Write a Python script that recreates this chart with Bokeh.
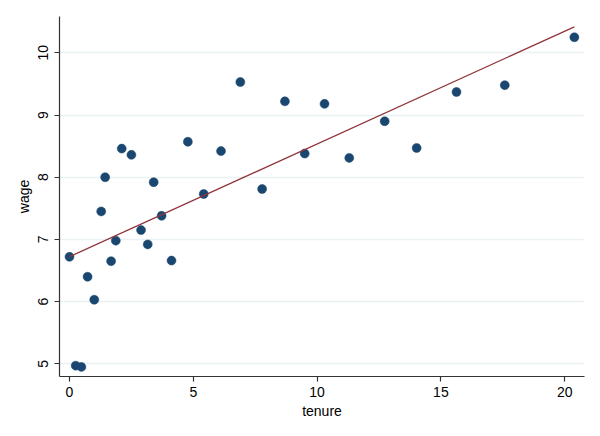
import numpy as np
from bokeh.plotting import figure
from bokeh.models import FixedTicker, ColumnDataSource, Range1d
from bokeh.embed import file_html
from bokeh.resources import INLINE

# data
tenure = [0.0, 0.25, 0.48, 0.73, 1.00, 1.28, 1.44, 1.68, 1.87, 2.11,
          2.50, 2.89, 3.16, 3.40, 3.72, 4.12, 4.78, 5.42, 6.12, 6.90,
          7.78, 8.70, 9.50, 10.30, 11.30, 12.73, 14.02, 15.63, 17.58, 20.39]
wage = [6.72, 4.97, 4.95, 6.40, 6.03, 7.45, 8.00, 6.65, 6.98, 8.46,
        8.36, 7.15, 6.92, 7.92, 7.38, 6.66, 8.57, 7.73, 8.42, 9.53,
        7.81, 9.22, 8.38, 9.18, 8.31, 8.90, 8.47, 9.37, 9.48, 10.25]
x_ticks = [0, 5, 10, 15, 20]
y_ticks = [5, 6, 7, 8, 9, 10]

# linear fit of wage on tenure
slope, intercept = np.polyfit(tenure, wage, 1)
fit_x = [min(tenure), max(tenure)]
fit_y = [intercept + slope * v for v in fit_x]

FONT = "Liberation Sans"
AXIS_COL = "#333333"

p = figure(width=600, height=436, output_backend="svg", toolbar_location=None,
           x_range=Range1d(-0.404, 20.8), y_range=Range1d(4.796, 10.584),
           min_border_left=59, min_border_right=16, min_border_top=16,
           min_border_bottom=60)
p.outline_line_color = None
p.background_fill_color = "white"
p.border_fill_color = "white"

p.xgrid.visible = False
p.ygrid.ticker = FixedTicker(ticks=y_ticks)
p.ygrid.grid_line_color = "#eaf2f3"
p.ygrid.grid_line_width = 1.5

for ax in (p.xaxis[0], p.yaxis[0]):
    ax.axis_line_color = AXIS_COL
    ax.axis_line_width = 1.2
    ax.major_tick_line_color = AXIS_COL
    ax.major_tick_line_width = 1.2
    ax.major_tick_out = 5
    ax.major_tick_in = 0
    ax.minor_tick_line_color = None
    ax.major_label_text_font = FONT
    ax.major_label_text_font_size = "14px"
    ax.major_label_text_color = "black"
    ax.axis_label_text_font = FONT
    ax.axis_label_text_font_size = "14px"
    ax.axis_label_text_font_style = "normal"
    ax.axis_label_text_color = "black"

p.xaxis.ticker = FixedTicker(ticks=x_ticks)
p.yaxis.ticker = FixedTicker(ticks=y_ticks)
p.xaxis.axis_label = "tenure"
p.yaxis.axis_label = "wage"
p.xaxis.major_label_standoff = 5
p.xaxis.axis_label_standoff = 3
p.yaxis.major_label_orientation = "vertical"
p.yaxis.major_label_standoff = 6
p.yaxis.axis_label_standoff = 4

src = ColumnDataSource(dict(tenure=tenure, wage=wage))
p.scatter("tenure", "wage", source=src, size=9, fill_color="#1a476f",
          line_color="#1a476f", line_width=0.5)
p.line(fit_x, fit_y, line_color="#90353b", line_width=1.3)

open("out.html", "w").write(file_html(p, INLINE))
